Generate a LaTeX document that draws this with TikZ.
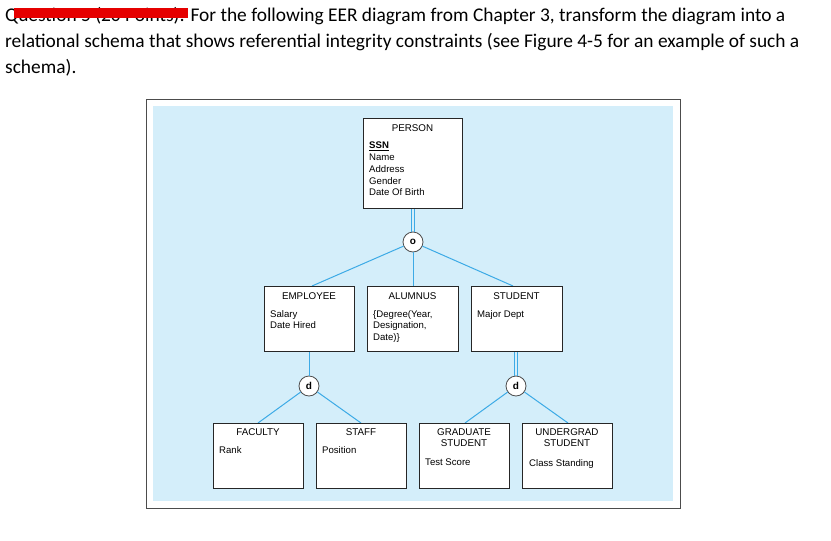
\documentclass[tikz,border=0pt]{standalone}
\usepackage{fontspec}
\setmainfont{Carlito}
\newfontfamily\dfont{Liberation Sans}
\definecolor{bgblue}{RGB}{212,238,250}
\definecolor{lnblue}{RGB}{60,170,230}
\begin{document}
\begin{tikzpicture}[x=1pt,y=-1pt,
  ent/.style={draw=black!85,fill=white,line width=0.8pt},
  lk/.style={draw=lnblue,line width=1pt},
  circ/.style={circle,draw=black!70,fill=white,line width=0.8pt,minimum size=20pt,inner sep=0pt,font=\dfont\bfseries\fontsize{10}{10}\selectfont},
  ttl/.style={font=\dfont\fontsize{9.8}{11.7}\selectfont,align=center,anchor=north,inner sep=0pt},
  att/.style={font=\dfont\fontsize{9.6}{11.7}\selectfont,align=left,anchor=north west,inner sep=0pt},
  qt/.style={anchor=base west,inner sep=0,font=\fontsize{19.4}{19.4}\selectfont}]
\useasboundingbox (0,0) rectangle (831,541);
\fill[white] (0,0) rectangle (831,541);
% question text
\node[qt] (q1) at (5,21) {Question 5 (20 Points): For the following EER diagram from Chapter 3, transform the diagram into a};
\fill[red!90!black] (14,8) rectangle (188,18);
\node[qt] (q2) at (5,47) {relational schema that shows referential integrity constraints (see Figure 4-5 for an example of such a};
\node[qt] (q3) at (5,73) {schema).};
% frame
\draw[black!70,line width=1pt,fill=white] (146,99) rectangle (680,508);
\fill[bgblue] (153,106) rectangle (673,501);
% nodes
\coordinate (person) at (413,208);
\node[circ] (o) at (413,242) {o};
\node[circ] (d1) at (309,386) {d};
\node[circ] (d2) at (516,386) {d};
% connectors
\draw[lk] ([xshift=-1.8pt]person) -- ([xshift=-1.8pt]o.north);
\draw[lk] ([xshift=1.8pt]person) -- ([xshift=1.8pt]o.north);
\coordinate (emp) at (312,286); \coordinate (alu) at (413,286); \coordinate (stu) at (513,286);
\draw[lk] (o) -- (emp); \draw[lk] (o) -- (alu); \draw[lk] (o) -- (stu);
\coordinate (empb) at (309,351); \coordinate (stub) at (516,351);
\draw[lk] (empb) -- (d1);
\draw[lk] ([xshift=-1.8pt]stub) -- ([xshift=-1.8pt]d2.north);
\draw[lk] ([xshift=1.8pt]stub) -- ([xshift=1.8pt]d2.north);
\coordinate (fac) at (258,423); \coordinate (sta) at (361,423);
\coordinate (gra) at (465,423); \coordinate (und) at (568,423);
\draw[lk] (d1) -- (fac); \draw[lk] (d1) -- (sta);
\draw[lk] (d2) -- (gra); \draw[lk] (d2) -- (und);
% boxes
\draw[ent] (363,118) rectangle (462,208);
\node[ttl] (pt) at (412.5,124) {PERSON};
\node[att] (pa) at (369,142) {\textbf{\underline{SSN}}\\Name\\Address\\Gender\\Date Of Birth};
\draw[ent] (264,286) rectangle (354,351);
\node[ttl] (et) at (309,292) {EMPLOYEE};
\node[att] (ea) at (270,310) {Salary\\Date Hired};
\draw[ent] (367,286) rectangle (458,351);
\node[ttl] (at) at (412.5,292) {ALUMNUS};
\node[att] (aa) at (373,310) {\{Degree(Year,\\Designation,\\Date)\}};
\draw[ent] (471,286) rectangle (562,351);
\node[ttl] (st) at (516.5,292) {STUDENT};
\node[att] (sa) at (477,310) {Major Dept};
\draw[ent] (213,423) rectangle (303,488);
\node[ttl] (ft) at (258,428) {FACULTY};
\node[att] (fa) at (219,446) {Rank};
\draw[ent] (316,423) rectangle (406,488);
\node[ttl] (sft) at (361,428) {STAFF};
\node[att] (sfa) at (322,446) {Position};
\draw[ent] (419,423) rectangle (509,488);
\node[ttl] (gt) at (464,428) {GRADUATE\\STUDENT};
\node[att] (ga) at (425,459) {Test Score};
\draw[ent] (522,423) rectangle (612,488);
\node[ttl] (ut) at (567,428) {UNDERGRAD\\STUDENT};
\node[att] (ua) at (529,459) {Class Standing};
\end{tikzpicture}
\end{document}
